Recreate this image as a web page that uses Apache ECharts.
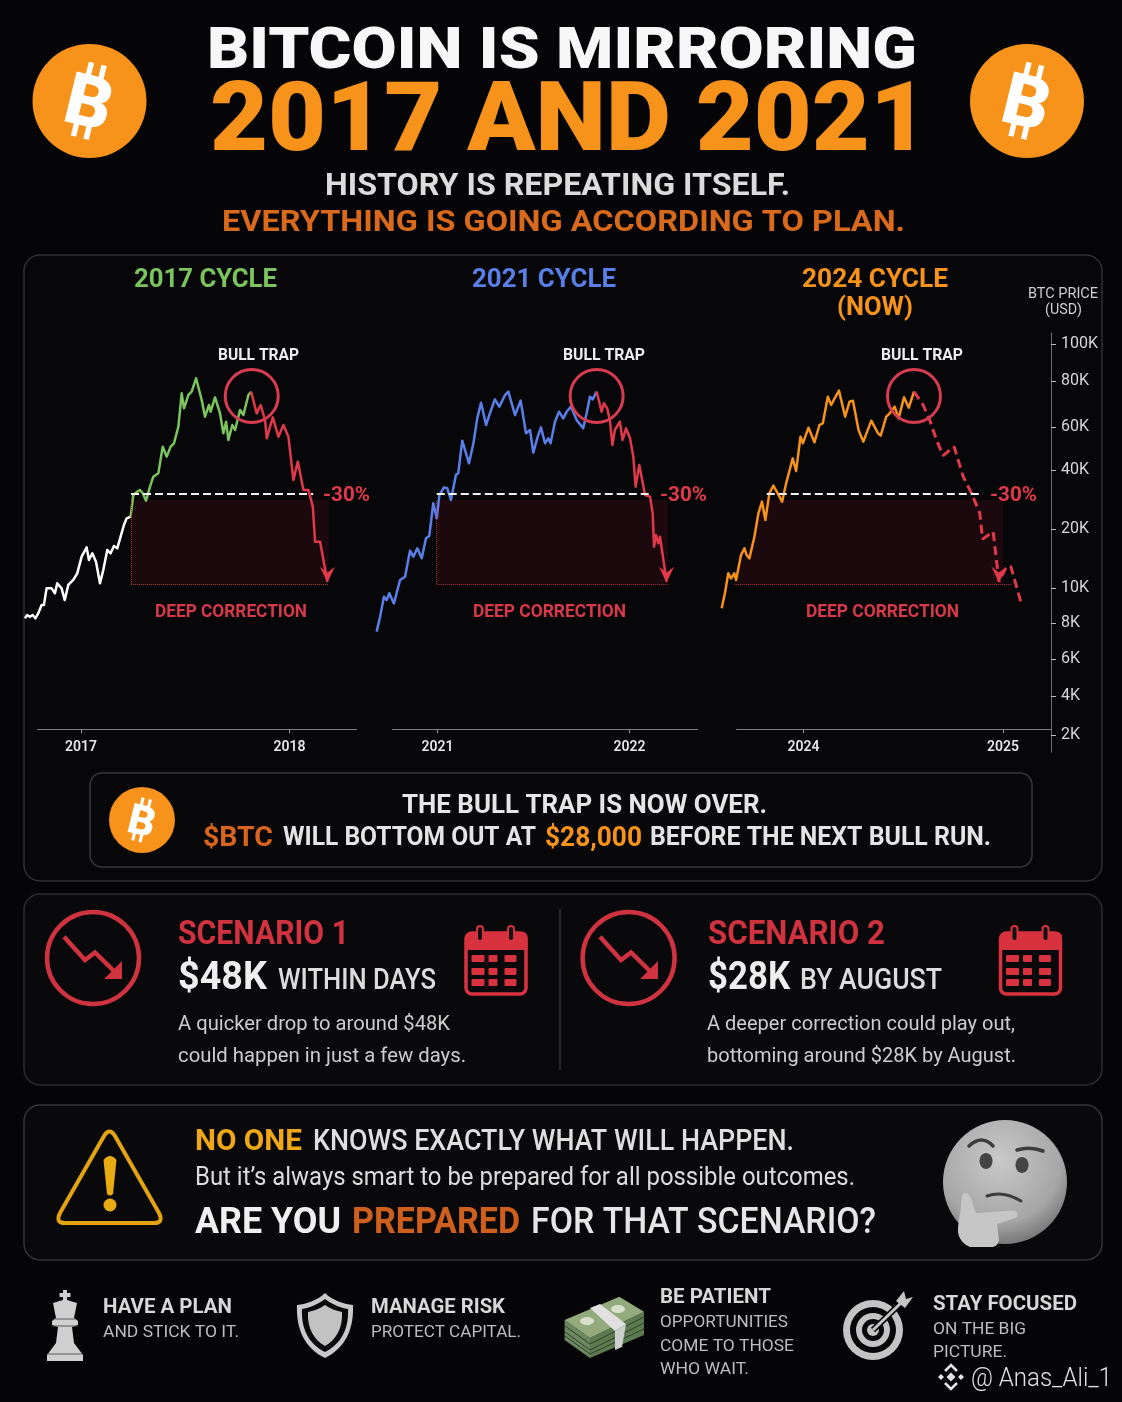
<!DOCTYPE html>
<html><head><meta charset="utf-8">
<style>html,body{margin:0;padding:0;background:#050507}#c{width:1122px;height:1402px}</style>
<script src="https://cdn.jsdelivr.net/npm/echarts@6/dist/echarts.min.js"></script>
</head><body><div id="c"></div>
<script>
// ---- data: [decimal year, BTC price in $K] ----
const priceTicks = [2,4,6,8,10,20,40,60,80,100];
const tickPos = [-6,33,70,106,141,200,259,302,348,385]; // the printed price scale is irregular
const years1 = [2017,2018], years2 = [2021,2022], years3 = [2024,2025];
const white2017 = [[2016.731,8.27],[2016.742,8.46],[2016.755,8.36],[2016.768,8.46],[2016.781,8.27],[2016.795,8.55],[2016.811,9.03],[2016.822,9.03],[2016.835,9.98],[2016.859,9.98],[2016.875,9.7],[2016.886,10.79],[2016.907,9.98],[2016.922,9.31],[2016.939,10.51],[2016.963,11.36],[2016.982,12.49],[2017.003,15.31],[2017.027,16.89],[2017.038,14.75],[2017.054,15.88],[2017.072,14.46],[2017.091,10.79],[2017.107,13.05],[2017.126,16.44],[2017.142,15.88],[2017.158,17.12],[2017.174,16.72],[2017.19,18.7],[2017.206,21.36],[2017.219,23.62],[2017.238,24.18]];
const green2017 = [[2017.238,24.18],[2017.251,31.53],[2017.27,32.66],[2017.283,33.22],[2017.296,32.09],[2017.312,29.6],[2017.331,34.35],[2017.347,37.74],[2017.371,38.87],[2017.392,50.86],[2017.411,46.21],[2017.43,50.86],[2017.446,52.41],[2017.467,60.1],[2017.483,74.64],[2017.494,68.11],[2017.515,73.91],[2017.531,75.36],[2017.552,81.46],[2017.579,71.74],[2017.595,64.49],[2017.614,69.56],[2017.622,66.66],[2017.643,72.9],[2017.667,65.94],[2017.683,57.06],[2017.696,62.32],[2017.707,53.96],[2017.726,60.87],[2017.739,58.6],[2017.763,67.4],[2017.779,65.2],[2017.803,73.9],[2017.816,75.36]];
const red2017 = [[2017.816,75.36],[2017.843,65.94],[2017.862,69.56],[2017.883,63],[2017.891,54.73],[2017.92,64.2],[2017.947,55.5],[2017.971,60.87],[2017.995,55.5],[2018.019,36.6],[2018.04,43.9],[2018.067,33.2],[2018.091,33.2],[2018.112,27.57],[2018.123,17.85],[2018.147,17.85],[2018.182,11.07]];
const blue2021 = [[2020.683,7.52],[2020.701,8.36],[2020.721,9.5],[2020.735,9.31],[2020.749,9.7],[2020.773,9.12],[2020.805,11.36],[2020.831,11.92],[2020.857,16.33],[2020.874,15.31],[2020.895,16.72],[2020.918,15.03],[2020.94,18.42],[2020.957,18.81],[2020.978,28.7],[2020.996,23.6],[2021.01,31.53],[2021.034,34.12],[2021.051,33.79],[2021.07,29.83],[2021.096,38.3],[2021.108,38.87],[2021.129,53.64],[2021.164,43.1],[2021.187,52.41],[2021.207,63.77],[2021.227,70.58],[2021.253,60.87],[2021.27,65.2],[2021.299,72],[2021.322,68.84],[2021.352,73.9],[2021.369,75.36],[2021.404,65.2],[2021.433,71.45],[2021.461,57.06],[2021.482,58.6],[2021.499,48.07],[2021.522,55.5],[2021.539,59.85],[2021.56,52.41],[2021.577,54.73],[2021.589,52.41],[2021.612,62.32],[2021.633,66.66],[2021.655,63.77],[2021.673,66.66],[2021.695,68.84],[2021.725,63],[2021.759,59.38],[2021.777,65.94],[2021.794,73.19],[2021.808,72],[2021.829,75.36]];
const red2021 = [[2021.829,75.36],[2021.855,66.66],[2021.867,70.3],[2021.884,68.1],[2021.898,63],[2021.911,51.63],[2021.924,58.6],[2021.95,62.32],[2021.964,53.96],[2021.982,59.38],[2022.003,54.73],[2022.02,46.2],[2022.032,34.35],[2022.051,42.3],[2022.081,31.53],[2022.107,30.96],[2022.121,25.31],[2022.128,17],[2022.138,18.98],[2022.15,17.57],[2022.159,18.7],[2022.193,11.07]];
const orange2024 = [[2023.59,8.84],[2023.606,9.7],[2023.623,12.49],[2023.637,11.64],[2023.653,12.49],[2023.662,11.36],[2023.687,15.59],[2023.704,16.72],[2023.715,15.59],[2023.729,15.03],[2023.754,18.7],[2023.774,25.31],[2023.792,29.27],[2023.809,23.05],[2023.829,32.09],[2023.849,34.69],[2023.871,32.09],[2023.893,29.27],[2023.913,35.48],[2023.946,45.4],[2023.963,39.66],[2023.985,55.5],[2023.997,52.41],[2024.025,59.69],[2024.055,52.87],[2024.08,60.87],[2024.097,61.6],[2024.122,73.19],[2024.139,69.56],[2024.156,72.46],[2024.178,75.8],[2024.209,64.49],[2024.231,71],[2024.248,71.45],[2024.276,58.6],[2024.3,53.18],[2024.34,62.75],[2024.374,57.06],[2024.387,55.97],[2024.415,64.49],[2024.432,65.94],[2024.457,68.84],[2024.477,63.77],[2024.504,72.9],[2024.528,68.4],[2024.554,75.36]];
const red2024 = [[2024.554,75.36],[2024.6,69.56],[2024.633,63],[2024.667,53.96],[2024.7,46.7],[2024.755,50.9],[2024.801,37.74],[2024.843,32.09],[2024.884,25.31],[2024.898,18.28],[2024.951,19.55],[2024.98,11.07],[2025.018,13.61],[2025.04,13.61],[2025.094,9.03]];
const trapYears = [2017.819,2021.829,2024.554];
const trapPrice = 73.5;
const supportPrice = 31.9, boxTop = 29.8, boxBottom = 10.68;
const dash1 = [2017.24,2018.114], dash2 = [2020.996,2022.115], dash3 = [2023.816,2024.889];
const box1 = [2017.24,2018.187], box2 = [2020.996,2022.199], box3 = [2023.653,2025.044];
const zone2024 = [[2023.653,10.68],[2023.675,13.5],[2023.715,15.59],[2023.754,18.7],[2023.774,25.31],[2023.792,29.27],[2023.8,29.8],[2025,29.8],[2025,10.68]];
const arrows1 = [[2018.182,11.07]], arrows2 = [[2022.193,11.07]], arrows3 = [[2024.98,11.07]];
const baseline1 = [2016.789,2018.324], baseline2 = [2020.763,2022.357], baseline3 = [2023.662,2025.241];

// ---- scale ----
function pos(p){
  for(let i=0;i<priceTicks.length-1;i++){
    if(p<=priceTicks[i+1]||i===priceTicks.length-2){
      const t=(p-priceTicks[i])/(priceTicks[i+1]-priceTicks[i]);
      return tickPos[i]+t*(tickPos[i+1]-tickPos[i]);
    }
  }
}
const toXY = a => a.map(d=>[d[0],pos(d[1])]);
const RED='#e0394a', GREEN='#7cc45d', BLUE='#5b7fe8', ORANGE='#f7931a';
const SANS='Roboto, "Liberation Sans", sans-serif';
const chart = echarts.init(document.getElementById('c'));

// ---- decoration helpers ----
const ctx = document.createElement('canvas').getContext('2d');
const els=[];
function T(x0,x1,yc,str,size,weight,color,family){
  const font=`${weight} ${size}px ${family||SANS}`;
  ctx.font=font;
  const w=ctx.measureText(str).width;
  els.push({type:'text',x:x0,y:yc+0.105*size,scaleX:(x1-x0)/w,z:20,silent:true,
    style:{text:str,font,fill:color,align:'left',verticalAlign:'middle',textAlign:'left',textVerticalAlign:'middle'}});
}
let shapeN=0;
function P(d,style,z){
  const name='iconPath'+(shapeN++);
  echarts.graphic.registerShape(name,echarts.graphic.extendPath(d,{}));
  els.push({type:name,style:style,z:z||20,silent:true});
}
function panel(x,y,w,h,r,stroke,fill){els.push({type:'rect',shape:{x,y,width:w,height:h,r},style:{fill:fill||'#09090b',stroke:stroke,lineWidth:1.5},z:-2,silent:true});}
function C(cx,cy,r,style,z){els.push({type:'circle',shape:{cx,cy,r},style,z:z||20,silent:true});}
function btc(cx,cy,r){
  C(cx,cy,r,{fill:ORANGE},19);
  const s=r/57;
  const bar=(x,y)=>({type:'rect',shape:{x:x*s,y:y*s,width:5.5*s,height:15*s},style:{fill:'#fff'},z:21});
  els.push({type:'group',x:cx,y:cy,rotation:-0.24,z:21,silent:true,children:[
    {type:'text',x:0,y:7.5*s,z:21,style:{text:'B',font:`900 ${72*s}px ${SANS}`,fill:'#fff',align:'center',verticalAlign:'middle',textAlign:'center',textVerticalAlign:'middle'}},
    bar(-10,-38),bar(3,-38),bar(-10,23),bar(3,23)]});
}
function downArrowIcon(cx,ox){
  C(cx,958,46,{fill:'none',stroke:'#cf3340',lineWidth:4.5});
  P(`M${ox},936.7 L${ox+21},960 L${ox+31},952.5 L${ox+52},973`,{fill:'none',stroke:'#d0323f',lineWidth:4.5});
  P(`M${ox+58},979 L${ox+40},979 L${ox+58},961 Z`,{fill:'#d0323f'});
}
function calendar(x){
  const c='#d8323f';
  els.push({type:'rect',shape:{x:x+1.5,y:933,width:60,height:61,r:6},style:{fill:'none',stroke:c,lineWidth:3.5},z:20,silent:true});
  P(`M${x+6},932 h52 a5,5 0 0 1 5,5 v13 h-62 v-13 a5,5 0 0 1 5,-5 Z`,{fill:c});
  [15.5,46.5].forEach(dx=>{els.push({type:'rect',shape:{x:x+dx-3,y:926,width:6,height:15,r:3},style:{fill:'#111',stroke:c,lineWidth:2},z:21,silent:true});});
  [[7,13],[24,9],[40,12]].forEach(a=>[955,968,979].forEach(y=>{els.push({type:'rect',shape:{x:x+a[0],y,width:a[1],height:7,r:1},style:{fill:c},z:20,silent:true});}));
}

// ---- panels ----
panel(24,255,1078,626,16,'#2f3034','#07070a');
panel(90,773,942,94,12,'#37383c','#08080a');
panel(24,894,1078,191,16,'#2c2d31');
panel(24,1105,1078,155,16,'#34353a');
els.push({type:'line',shape:{x1:560,y1:909,x2:560,y2:1070},style:{stroke:'#2f3034',lineWidth:1.5},z:-1,silent:true});

// ---- header ----
btc(89.5,101,57); btc(1027,101,57);
T(207,917,47,'BITCOIN IS MIRRORING',58,900,'#f7f7f7');
T(210,928,116,'2017 AND 2021',96,900,ORANGE);
T(325,790,184,'HISTORY IS REPEATING ITSELF.',32,700,'#dcdcdc');
T(222,905,221,'EVERYTHING IS GOING ACCORDING TO PLAN.',29,700,'#d96a1c');

// ---- chart annotations ----
T(134,277,278,'2017 CYCLE',26,700,GREEN);
T(472,616,278,'2021 CYCLE',26,700,BLUE);
T(802,948,278,'2024 CYCLE',26,700,ORANGE);
T(837,913,306,'(NOW)',26,700,ORANGE);
T(1028,1098,293,'BTC PRICE',14,400,'#cfcfcf');
T(1045,1082,309,'(USD)',14,400,'#cfcfcf');
[[218,299],[563,645],[881,963]].forEach(a=>T(a[0],a[1],354,'BULL TRAP',17,700,'#eeeeee'));
[[323,370],[660,707],[990,1037]].forEach(a=>T(a[0],a[1],494,'-30%',20,700,RED));
[[155,307],[473,626],[806,959]].forEach(a=>T(a[0],a[1],610,'DEEP CORRECTION',19,700,'#d8394a'));

// ---- callout ----
btc(142,820,33);
T(402,767,804,'THE BULL TRAP IS NOW OVER.',26,700,'#e6e6e6');
T(203,273,836,'$BTC',27,700,'#d9651c');
T(283,536,836,'WILL BOTTOM OUT AT',26,700,'#e4e4e4');
T(545,642,836,'$28,000',27,700,ORANGE);
T(650,991,836,'BEFORE THE NEXT BULL RUN.',26,700,'#e4e4e4');

// ---- scenarios ----
downArrowIcon(93,64); downArrowIcon(628.6,600);
calendar(464.5); calendar(999);
T(178,349,932,'SCENARIO 1',33,700,'#d0323f');
T(178,267,975,'$48K',39,700,'#eeeeee');
T(278,436,978,'WITHIN DAYS',30,500,'#dddddd');
T(178,450,1023,'A quicker drop to around $48K',21,400,'#cdcdcd');
T(178,466,1055,'could happen in just a few days.',21,400,'#cdcdcd');
T(708,885,932,'SCENARIO 2',33,700,'#d0323f');
T(708,790,975,'$28K',39,700,'#eeeeee');
T(800,942,978,'BY AUGUST',30,500,'#dddddd');
T(707,1015,1023,'A deeper correction could play out,',21,400,'#cdcdcd');
T(707,1016,1055,'bottoming around $28K by August.',21,400,'#cdcdcd');

// ---- warning ----
P('M104,1136 Q109.5,1127 115,1136 L159,1213 Q164,1223 154,1223 L65,1223 Q55,1223 60,1213 Z',{fill:'none',stroke:'#e3a313',lineWidth:4,lineJoin:'round'});
P('M103.5,1160 Q110,1152 116.5,1160 L113,1194 Q110,1197 107,1194 Z',{fill:'#e9ab12'});
C(110,1205,6.5,{fill:'#e9ab12'});
T(195,302,1140,'NO ONE',29,700,'#efa716');
T(313,794,1140,'KNOWS EXACTLY WHAT WILL HAPPEN.',29,500,'#dfdfdf');
T(195,855,1176,'But it\u2019s always smart to be prepared for all possible outcomes.',25,400,'#dcdcdc');
T(195,341,1220,'ARE YOU',36,700,'#f0f0f0');
T(352,520,1220,'PREPARED',36,700,'#cf5f1d');
T(531,876,1220,'FOR THAT SCENARIO?',36,500,'#e6e6e6');

// ---- thinking face ----
C(1005,1182,62,{fill:{type:'radial',x:0.45,y:0.32,r:0.72,colorStops:[{offset:0,color:'#c9c9c9'},{offset:0.7,color:'#a6a6a6'},{offset:1,color:'#6f6f6f'}]}});
P('M969,1146 Q982,1134 993,1146',{fill:'none',stroke:'#3d3d3d',lineWidth:3.5,lineCap:'round'});
P('M1017,1150 Q1030,1146 1043,1151',{fill:'none',stroke:'#3d3d3d',lineWidth:3.5,lineCap:'round'});
els.push({type:'ellipse',shape:{cx:986,cy:1161,rx:6.5,ry:8},style:{fill:'#444'},z:21,silent:true});
els.push({type:'ellipse',shape:{cx:1022,cy:1165,rx:6.5,ry:8},style:{fill:'#444'},z:21,silent:true});
P('M987,1196 Q1003,1190 1021,1201',{fill:'none',stroke:'#3d3d3d',lineWidth:3,lineCap:'round'});
P('M965,1193 C970,1193 972,1200 973,1205 L976,1213 L1013,1210.5 C1019,1211 1019,1217 1015,1218 L997,1224 L999,1240 C998,1245 995,1247 992,1247 L970,1247 C963,1244 959,1239 958,1232 C958,1222 960,1215 961,1208 C961,1200 962,1193 965,1193 Z',{fill:'#c6c6c6'},22);

// ---- footer ----
P('M63,1290 h4 v3 h3.5 v4 h-3.5 v3 L77,1303 L74,1318 L78,1321 L78,1325 L72,1327 L74,1343 L80,1351 L83,1355 L83,1361 L47,1361 L47,1355 L50,1351 L56,1343 L58,1327 L52,1325 L52,1321 L56,1318 L53,1303 L63,1300 v-3 h-3.5 v-4 h3.5 Z',{fill:'#cfcfcf'});
P('M55,1319 L75,1319 M53,1326 L77,1326 M48,1354 L82,1354',{fill:'none',stroke:'#5a5a5a',lineWidth:1},21);
T(103,232,1306,'HAVE A PLAN',20,700,'#d8d8d8');
T(103,239,1331,'AND STICK TO IT.',17,400,'#bdbdbd');
P('M325,1293 C332,1300 343,1304 353,1305 C354,1330 345,1348 325,1358 C305,1348 296,1330 297,1305 C307,1304 318,1300 325,1293 Z',{fill:'#c9c9c9'});
P('M325,1299 C331,1304 341,1308 348,1309 C349,1329 341,1344 325,1352 C309,1344 301,1329 302,1309 C309,1308 319,1304 325,1299 Z',{fill:'#0a0a0c'},21);
P('M325,1305 C331,1309 337,1311 342,1312 C343,1328 336,1340 325,1346 C314,1340 307,1328 308,1312 C313,1311 319,1309 325,1305 Z',{fill:'#c2c2c2'},22);
T(371,505,1306,'MANAGE RISK',20,700,'#d8d8d8');
T(371,521,1331,'PROTECT CAPITAL.',17,400,'#bdbdbd');
P('M564.6,1320 L590,1338 L590,1358 L564.6,1340 Z',{fill:'#6c8860'});
P('M590,1338 L644,1311.7 L644,1335 L590,1358 Z',{fill:'#5c7a50'});
P('M564.6,1320 L619.3,1296.7 L644,1311.7 L590,1338 Z',{fill:'#93ab7c'});
P('M565,1326 L590,1344 L644,1317 M565,1332 L590,1350 L644,1323 M565,1336 L590,1354 L644,1329',{fill:'none',stroke:'#2f4029',lineWidth:1},21);
P('M590,1308 L600,1304 L626,1324 L615,1331 Z',{fill:'#e0e0e0'},21);
P('M615,1331 L626,1324 L622,1347 L615,1350 Z',{fill:'#cfcfcf'},21);
els.push({type:'ellipse',shape:{cx:587,cy:1321,rx:7,ry:4},style:{fill:'#d8e0cc'},z:21,silent:true});
els.push({type:'ellipse',shape:{cx:618,cy:1309,rx:7,ry:4},style:{fill:'#d8e0cc'},z:21,silent:true});
T(660,771,1296,'BE PATIENT',20,700,'#d8d8d8');
T(660,788,1321,'OPPORTUNITIES',17,400,'#bdbdbd');
T(660,794,1345,'COME TO THOSE',17,400,'#bdbdbd');
T(660,749,1368,'WHO WAIT.',17,400,'#bdbdbd');
C(873,1330,30,{fill:'#c4c4c4'});C(873,1330,23,{fill:'#08080a'},21);C(873,1330,17,{fill:'#c4c4c4'},22);C(873,1330,11,{fill:'#08080a'},23);C(873,1330,6,{fill:'#c4c4c4'},24);
P('M873,1330 L902,1302',{fill:'none',stroke:'#08080a',lineWidth:6},25);
P('M873,1330 L902,1302',{fill:'none',stroke:'#c4c4c4',lineWidth:3},26);
P('M896,1301 L904,1291 L906,1299 L913,1297 L905,1308 Z',{fill:'#c4c4c4'},26);
T(933,1077,1303,'STAY FOCUSED',20,700,'#d8d8d8');
T(933,1026,1328,'ON THE BIG',17,400,'#bdbdbd');
T(933,1007,1351,'PICTURE.',17,400,'#bdbdbd');
P('M945,1371 L951,1365 L957,1371 M945,1383 L951,1389 L957,1383',{fill:'none',stroke:'#e4e4e4',lineWidth:2.6});
[[951,1377,4.5],[941,1377,3],[961,1377,3]].forEach(d=>P(`M${d[0]},${d[1]-d[2]} L${d[0]+d[2]},${d[1]} L${d[0]},${d[1]+d[2]} L${d[0]-d[2]},${d[1]} Z`,{fill:'#e4e4e4'}));
T(971,1112,1377,'@ Anas_Ali_1',25,300,'#e2e2e2');

// ---- series ----
function line(data,color,g,extra){return Object.assign({type:'line',data:toXY(data),xAxisIndex:g,yAxisIndex:g,showSymbol:false,clip:false,silent:true,
  lineStyle:{color,width:2.5,join:'round'},itemStyle:{color},z:4},extra||{});}
function zone(g,dash,box,baseline,poly){
  const y=pos(supportPrice),t=pos(boxTop),b=pos(boxBottom);
  const dotted=[[{coord:[box[0],b]},{coord:[box[1],b]}]];
  if(!poly) dotted.push([{coord:[box[0],b]},{coord:[box[0],t]}]);
  const out=[
   {type:'line',data:[],xAxisIndex:g,yAxisIndex:g,silent:true,z:2,
    markArea:poly?undefined:{silent:true,itemStyle:{color:'rgba(120,22,28,0.18)'},data:[[{coord:[box[0],t]},{coord:[box[1],b]}]]},
    markLine:{silent:true,symbol:'none',label:{show:false},lineStyle:{color:'#b8323c',width:1,type:'dotted'},data:dotted}},
   {type:'line',data:[],xAxisIndex:g,yAxisIndex:g,silent:true,z:6,
    markLine:{silent:true,symbol:'none',label:{show:false},lineStyle:{color:'#f2f2f2',width:2,type:[8,4]},data:[[{coord:[dash[0],y]},{coord:[dash[1],y]}]]}},
   {type:'line',data:[],xAxisIndex:g,yAxisIndex:g,silent:true,z:1,
    markLine:{silent:true,symbol:'none',label:{show:false},lineStyle:{color:'#7e7e80',width:1,type:'solid'},data:[[{coord:[baseline[0],0]},{coord:[baseline[1],0]}]]}}
  ];
  if(poly) out.push({type:'custom',xAxisIndex:g,yAxisIndex:g,silent:true,z:2,clip:false,data:[[poly[0][0],pos(poly[0][1])]],
    renderItem:(p,api)=>({type:'polygon',shape:{points:toXY(poly).map(d=>api.coord(d))},style:{fill:'rgba(120,22,28,0.18)'}})});
  return out;
}
function trap(g,year){return {type:'scatter',xAxisIndex:g,yAxisIndex:g,data:[[year,pos(trapPrice)]],symbol:'circle',symbolSize:53,silent:true,z:7,
  itemStyle:{color:'transparent',borderColor:'#d83c50',borderWidth:3,opacity:1},clip:false};}
function arrow(g,data){return {type:'scatter',xAxisIndex:g,yAxisIndex:g,data:toXY(data),symbol:'path://M0,0 L5,5 L10,0 L5,14 Z',symbolSize:[15,16],symbolOffset:[0,-7],silent:true,z:8,itemStyle:{color:RED,opacity:1},clip:false};}

const series=[
  ...zone(0,dash1,box1,baseline1),...zone(1,dash2,box2,baseline2),...zone(2,dash3,box3,baseline3,zone2024),
  line(white2017,'#ffffff',0),line(green2017,GREEN,0),line(red2017,RED,0),
  line(blue2021,BLUE,1),line(red2021,RED,1),
  line(orange2024,ORANGE,2),line(red2024,RED,2,{lineStyle:{color:RED,width:3,type:[9,5]}}),
  trap(0,trapYears[0]),trap(1,trapYears[1]),trap(2,trapYears[2]),
  arrow(0,arrows1),arrow(1,arrows2),arrow(2,arrows3)
];
const gridTop=333,gridH=419;
function xAxis(g,min,max,vals){return {type:'value',gridIndex:g,min,max,splitLine:{show:false},
  axisLine:{show:false,onZero:true},
  axisTick:{show:true,length:4,customValues:vals,lineStyle:{color:'#9a9a9a'}},
  axisLabel:{show:true,customValues:vals,margin:-12,color:'#e6e6e6',fontFamily:SANS,fontSize:14,fontWeight:600,formatter:v=>String(v),hideOverlap:false}};}
function yAxis(g,show){return {type:'value',gridIndex:g,min:-23,max:396,show,position:'right',splitLine:{show:false},
  axisLine:{show:true,lineStyle:{color:'#6e6e70'}},
  axisTick:{show:true,length:5,customValues:tickPos,lineStyle:{color:'#bdbdbd'}},
  axisLabel:{show:true,customValues:tickPos,margin:10,padding:[3,0,0,0],color:'#d8d8d8',fontFamily:SANS,fontSize:16,hideOverlap:false,
    formatter:v=>priceTicks[tickPos.indexOf(v)]+'K'}};}
chart.setOption({
  animation:false,backgroundColor:'#050507',
  grid:[{left:20,width:337,top:gridTop,height:gridH},{left:370,width:328,top:gridTop,height:gridH},{left:716,width:335,top:gridTop,height:gridH}],
  xAxis:[xAxis(0,2016.7074,2018.324,years1),xAxis(1,2020.6484,2022.357,years2),xAxis(2,2023.5614,2025.241,years3)],
  yAxis:[yAxis(0,false),yAxis(1,false),yAxis(2,true)],
  series,
  graphic:{elements:els}
});
</script></body></html>
